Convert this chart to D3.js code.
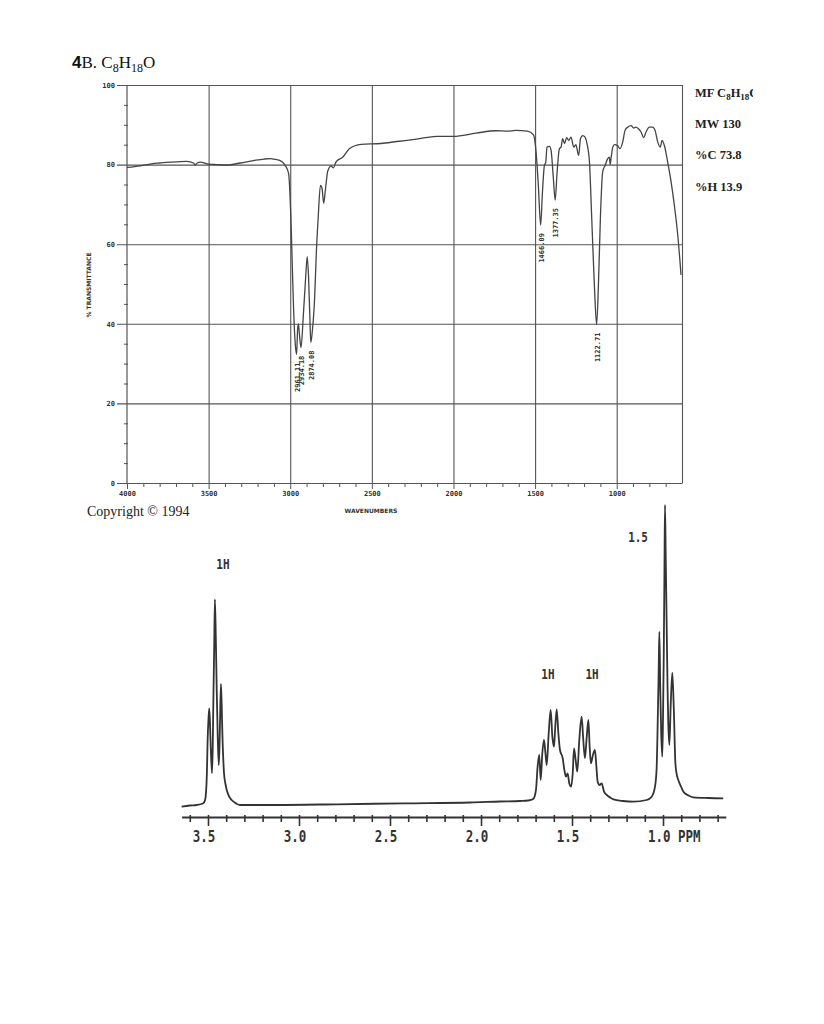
<!DOCTYPE html>
<html>
<head>
<meta charset="utf-8">
<script src="https://cdn.jsdelivr.net/npm/d3@7"></script>
<style>
  body { margin: 0; background: #fff; }
  .plot text { font-family: "DejaVu Sans Mono", monospace; font-weight: bold; fill: #333; }
</style>
</head>
<body>
<svg id="chart" width="824" height="1024"></svg>
<script>
// ---- IR spectrum (wavenumber, % transmittance) ----
const irWavenumber = [4000, 3918, 3850, 3796, 3735, 3633, 3592, 3582, 3570, 3551, 3500, 3450, 3388, 3306, 3225, 3160, 3123, 3090, 3061, 3031,
  3010, 2996, 2987, 2979, 2969, 2961, 2955, 2950, 2944, 2934, 2920, 2905, 2896, 2888, 2880, 2874, 2865, 2850, 2840, 2829,
  2815, 2805, 2795, 2785, 2770, 2750, 2735, 2719, 2677, 2638, 2566, 2444, 2347, 2226, 2104, 2000, 1862, 1740, 1668, 1619,
  1547, 1510, 1494, 1480, 1466, 1455, 1443, 1435, 1427, 1412, 1402, 1388, 1377, 1365, 1351, 1341, 1331, 1320, 1306, 1294,
  1280, 1263, 1250, 1233, 1222, 1208, 1194, 1182, 1167, 1153, 1137, 1123, 1112, 1100, 1086, 1071, 1055, 1045, 1040, 1035,
  1024, 1014, 994, 980, 963, 949, 933, 912, 896, 882, 867, 851, 835, 820, 800, 780, 765, 749, 733, 722,
  708, 688, 667, 647, 626, 606];
const irTransmittance = [79.3, 79.7, 80.2, 80.4, 80.6, 80.8, 80.4, 79.9, 80.4, 80.6, 80.1, 80.0, 79.9, 80.4, 81.0, 81.4, 81.5, 81.3, 81.0, 79.8,
  77.8, 66.5, 54.0, 43.2, 34.8, 32.3, 38.5, 40.0, 37.5, 34.0, 42.0, 52.0, 56.9, 52.0, 42.0, 35.3, 38.0, 47.0, 58.0, 66.5,
  74.8, 74.0, 70.3, 73.5, 78.4, 79.6, 79.2, 80.7, 81.9, 84.0, 85.1, 85.3, 85.8, 86.4, 87.1, 87.1, 87.9, 88.5, 88.4, 88.6,
  88.4, 87.5, 83.2, 74.8, 64.8, 73.0, 79.8, 80.5, 84.4, 84.6, 83.6, 76.5, 71.1, 78.2, 84.0, 84.4, 86.5, 85.3, 86.8, 86.1,
  86.9, 84.4, 85.0, 82.3, 86.5, 87.3, 86.9, 85.3, 80.7, 66.5, 49.8, 39.8, 49.8, 66.5, 78.2, 79.8, 81.5, 81.9, 80.0, 81.5,
  84.4, 85.0, 84.7, 84.0, 85.7, 88.6, 89.4, 89.8, 89.2, 89.4, 89.0, 88.2, 86.8, 88.2, 89.4, 89.4, 88.6, 85.7, 84.4, 86.1,
  84.8, 80.7, 75.7, 69.8, 62.3, 52.3];
const irPeakWavenumber = [2961, 2934, 2874, 1466, 1377, 1123];
const irPeakLabels = ["2961.11", "2934.18", "2874.08", "1466.09", "1377.35", "1122.71"];
const irXTicks = [4000, 3500, 3000, 2500, 2000, 1500, 1000];
const irYTicks = [0, 20, 40, 60, 80, 100];
const irInfo = ["MW 130", "%C 73.8", "%H 13.9"];

// ---- 1H NMR spectrum (ppm, signal height) ----
const nmrPpm = [3.645, 3.600, 3.562, 3.526, 3.516, 3.511, 3.506, 3.502, 3.497, 3.493, 3.489, 3.485, 3.478, 3.474, 3.471, 3.466, 3.462, 3.457, 3.452, 3.447,
  3.441, 3.437, 3.434, 3.429, 3.425, 3.421, 3.412, 3.404, 3.397, 3.385, 3.370, 3.345, 3.324, 3.159, 2.793, 2.427, 2.060, 1.896, 1.786, 1.740,
  1.713, 1.698, 1.689, 1.680, 1.672, 1.663, 1.654, 1.646, 1.639, 1.628, 1.617, 1.608, 1.599, 1.592, 1.584, 1.575, 1.566, 1.551, 1.542, 1.533,
  1.524, 1.515, 1.505, 1.496, 1.489, 1.480, 1.471, 1.460, 1.447, 1.438, 1.429, 1.419, 1.410, 1.403, 1.396, 1.385, 1.374, 1.366, 1.359, 1.348,
  1.337, 1.324, 1.309, 1.290, 1.272, 1.220, 1.163, 1.090, 1.062, 1.044, 1.035, 1.031, 1.024, 1.020, 1.015, 1.010, 1.004, 1.000, 0.996, 0.992,
  0.989, 0.985, 0.980, 0.975, 0.971, 0.965, 0.958, 0.949, 0.941, 0.932, 0.925, 0.916, 0.900, 0.888, 0.860, 0.834, 0.750, 0.669];
const nmrSignal = [11.3, 12.5, 13.0, 14.7, 18, 25, 45, 78, 100, 109.7, 95, 71.3, 44.7, 70, 111.3, 170, 218.7, 180, 128, 85,
  53, 70, 95, 134, 115, 85, 45, 34, 28, 22, 18, 14.5, 13, 13, 13.7, 14.7, 15.5, 16.5, 17, 17.5,
  19, 28, 51.3, 63, 38, 65, 78, 65, 53, 85, 108, 81.3, 71.3, 91.3, 108.7, 84.7, 68, 59.7, 48, 41.3,
  44.7, 34.7, 31.3, 44.7, 69.7, 58, 46.3, 78, 101.3, 78, 59.7, 81.3, 98, 71.3, 54.7, 63, 68, 51.3, 36.3, 33,
  34.7, 26.3, 23, 20.5, 18.7, 17, 16.3, 18, 21.3, 31.3, 50, 78, 145, 186.3, 128, 85, 61.3, 100, 161.3, 250,
  313, 260, 194.7, 130, 94.7, 73, 111.3, 145.3, 111.3, 54.7, 44, 38, 31, 26.3, 22.5, 20.7, 20, 19.7];
const nmrTicks = [3.5, 3.0, 2.5, 2.0, 1.5, 1.0];
const nmrTickLabels = ["3.5", "3.0", "2.5", "2.0", "1.5", "1.0 PPM"];
const integralText = ["1H", "1H", "1H", "1.5"];
const integralPpm = [3.418, 1.632, 1.390, 1.137];
const integralLevel = [249, 139, 139, 276];

const svg = d3.select("#chart");

// title
const title = svg.append("text").attr("x", 72).attr("y", 68)
  .style("font-family", "'Liberation Serif', serif").style("font-size", "17px").attr("fill", "#111");
title.append("tspan").text("4").style("font-family", "'Liberation Sans', sans-serif").style("font-weight", "bold");
title.append("tspan").text("B.  C");
title.append("tspan").text("8").attr("dy", 4).style("font-size", "12px");
title.append("tspan").text("H").attr("dy", -4);
title.append("tspan").text("18").attr("dy", 4).style("font-size", "12px");
title.append("tspan").text("O").attr("dy", -4);

// ================= IR =================
const ir = svg.append("g").attr("class", "plot");
const x = d3.scaleLinear().domain([4000, 600]).range([127, 682]);
const y = d3.scaleLinear().domain([0, 100]).range([483, 85]);
const lineCol = "#555";

// horizontal grid + y labels (axis sits left of the frame)
const yAxis = d3.axisLeft(y).tickValues(irYTicks).tickSize(-(682 - 117)).tickPadding(2).tickFormat(d3.format("d"));
ir.append("g").attr("transform", "translate(117,0)").call(yAxis)
  .call(g => g.select(".domain").remove())
  .call(g => g.selectAll("line").attr("stroke", lineCol).attr("stroke-width", 1.1))
  .call(g => g.selectAll("text").style("font-size", "7px"));

// minor y ticks every 5
const yMinor = d3.axisLeft(y).tickValues(d3.range(5, 100, 5).filter(d => d % 20)).tickSize(4).tickFormat("");
ir.append("g").attr("transform", "translate(128,0)").call(yMinor)
  .call(g => g.select(".domain").remove())
  .call(g => g.selectAll("line").attr("stroke", lineCol));

// vertical grid (incl. right border)
const xGrid = d3.axisBottom(x).tickValues([3500, 3000, 2500, 2000, 1500, 1000, 600]).tickSize(-(483 - 85)).tickFormat("");
ir.append("g").attr("transform", "translate(0,483)").call(xGrid)
  .call(g => g.select(".domain").remove())
  .call(g => g.selectAll("line").attr("stroke", lineCol).attr("stroke-width", 1.1));

// left frame
ir.append("line").attr("x1", x(4000)).attr("x2", x(4000)).attr("y1", y(100)).attr("y2", y(0))
  .attr("stroke", lineCol).attr("stroke-width", 1.2);

// bottom axis
const xAxis = d3.axisBottom(x).tickValues(irXTicks).tickSize(6).tickSizeOuter(0).tickPadding(2).tickFormat(d3.format("d"));
ir.append("g").attr("transform", "translate(0,483)").call(xAxis)
  .call(g => g.select(".domain").attr("stroke", lineCol).attr("stroke-width", 1.2))
  .call(g => g.selectAll("line").attr("stroke", lineCol))
  .call(g => g.selectAll("text").style("font-size", "7px"));
const xMinor = d3.axisBottom(x).tickValues(d3.range(3900, 600, -100).filter(d => d % 500)).tickSize(4).tickFormat("");
ir.append("g").attr("transform", "translate(0,483)").call(xMinor)
  .call(g => g.select(".domain").remove())
  .call(g => g.selectAll("line").attr("stroke", lineCol));

// axis titles
ir.append("text").attr("transform", "translate(91,285) rotate(-90)").attr("text-anchor", "middle")
  .style("font-family", "'DejaVu Sans', sans-serif").style("font-size", "6px").text("% TRANSMITTANCE");
ir.append("text").attr("x", 371).attr("y", 513).attr("text-anchor", "middle")
  .style("font-family", "'DejaVu Sans', sans-serif").style("font-size", "6px").text("WAVENUMBERS");

// spectrum
const irData = irWavenumber.map((w, i) => [w, irTransmittance[i]]);
ir.append("path").datum(irData)
  .attr("d", d3.line().x(d => x(d[0])).y(d => y(d[1])).curve(d3.curveMonotoneX))
  .attr("fill", "none").attr("stroke", "#444").attr("stroke-width", 1.3);

// peak labels
ir.selectAll(".peak").data(irPeakWavenumber).join("text")
  .attr("class", "peak")
  .attr("transform", w => `translate(${x(w) + 3},${y(irTransmittance[irWavenumber.indexOf(w)]) + 8}) rotate(-90)`)
  .attr("text-anchor", "end")
  .style("font-size", "7px")
  .text((w, i) => irPeakLabels[i]);

// formula box on the right (the scan cuts the MF line off)
const info = svg.append("g").style("font-family", "'Liberation Serif', serif").style("font-weight", "bold")
  .style("font-size", "12.5px").attr("fill", "#222");
svg.append("clipPath").attr("id", "mfclip").append("rect").attr("x", 0).attr("y", 0).attr("width", 753).attr("height", 1024);
const mf = info.append("text").attr("x", 695).attr("y", 96.5).attr("clip-path", "url(#mfclip)");
mf.append("tspan").text("MF C");
mf.append("tspan").text("8").attr("dy", 3).style("font-size", "9px");
mf.append("tspan").text("H").attr("dy", -3);
mf.append("tspan").text("18").attr("dy", 3).style("font-size", "9px");
mf.append("tspan").text("O").attr("dy", -3);
info.selectAll(".inf").data(irInfo).join("text").attr("class", "inf")
  .attr("x", 695).attr("y", (d, i) => 127.5 + i * 31.5).text(d => d);

svg.append("text").attr("x", 87).attr("y", 516)
  .style("font-family", "'Liberation Serif', serif").style("font-size", "14px").attr("fill", "#222")
  .text("Copyright \u00A9 1994");

// ================= NMR =================
const nmr = svg.append("g").attr("class", "plot");
const nx = d3.scaleLinear().domain([3.645, 0.655]).range([181.6, 725.8]);
const ny = d3.scaleLinear().domain([0, 320]).range([818, 498]);
const axisY = 817;

const nAxis = d3.axisBottom(nx).tickValues(nmrTicks).tickSize(9).tickSizeOuter(0).tickFormat("");
nmr.append("g").attr("transform", `translate(0,${axisY})`).call(nAxis)
  .call(g => g.select(".domain").attr("stroke", "#333").attr("stroke-width", 1.8))
  .call(g => g.selectAll("line").attr("stroke", "#333").attr("stroke-width", 1.6).attr("y1", -2));
const nMinor = d3.axisBottom(nx).tickValues(d3.range(36, 6, -1).map(d => d / 10).filter(d => !nmrTicks.includes(d)))
  .tickSize(5).tickFormat("");
nmr.append("g").attr("transform", `translate(0,${axisY})`).call(nMinor)
  .call(g => g.select(".domain").remove())
  .call(g => g.selectAll("line").attr("stroke", "#333").attr("stroke-width", 1.6).attr("y1", -2));

nmr.selectAll(".nlab").data(nmrTicks).join("text").attr("class", "nlab")
  .attr("transform", d => `translate(${nx(d) - 4},842) scale(1,1.25)`)
  .attr("text-anchor", (d, i) => i === nmrTicks.length - 1 ? "start" : "middle")
  .attr("dx", (d, i) => i === nmrTicks.length - 1 ? -11 : 0)
  .style("font-size", "12.5px")
  .text((d, i) => nmrTickLabels[i]);

const nmrData = nmrPpm.map((p, i) => [p, nmrSignal[i]]);
nmr.append("path").datum(nmrData)
  .attr("d", d3.line().x(d => nx(d[0])).y(d => ny(d[1])).curve(d3.curveMonotoneX))
  .attr("fill", "none").attr("stroke", "#333").attr("stroke-width", 1.8).attr("stroke-linejoin", "round");

nmr.selectAll(".integ").data(integralText).join("text").attr("class", "integ")
  .attr("transform", (d, i) => `translate(${nx(integralPpm[i])},${ny(integralLevel[i])}) scale(1,1.2)`)
  .attr("text-anchor", "middle")
  .style("font-size", "11px")
  .text(d => d);
</script>
</body>
</html>
